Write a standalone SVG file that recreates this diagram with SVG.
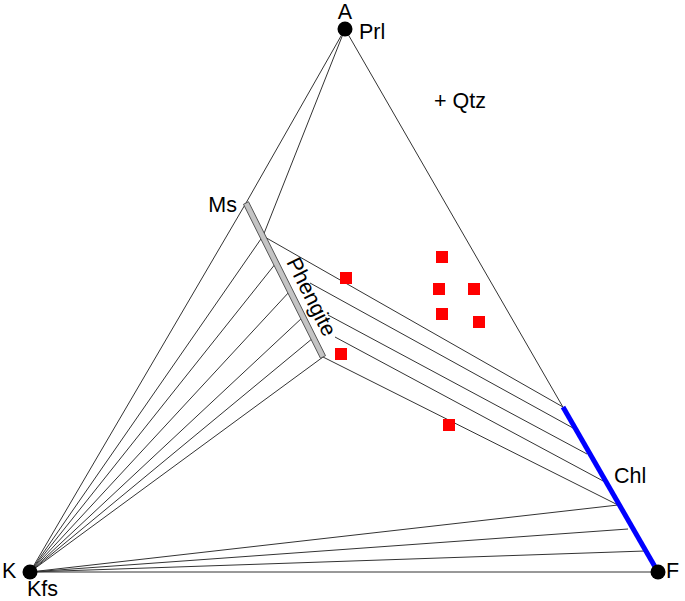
<svg xmlns="http://www.w3.org/2000/svg" width="685" height="601" viewBox="0 0 685 601">
<style>
.ln{stroke:#333;stroke-width:1;fill:none}
.lbl{font-family:"Liberation Sans",Arial,sans-serif;font-size:21.5px;fill:#000}
.dot{fill:#000}
.smp{fill:#ff0000}
</style>
<rect width="685" height="601" fill="#fff"/>
<g id="connectors">
<line class="ln" x1="345" y1="29" x2="658" y2="572"/>
<line class="ln" x1="30" y1="572" x2="658" y2="572"/>
<line class="ln" x1="30" y1="572" x2="246" y2="203"/>
<line class="ln" x1="345" y1="29" x2="246" y2="203"/>
<line class="ln" x1="345" y1="29" x2="263" y2="236"/>
<line class="ln" x1="30" y1="572" x2="263" y2="236"/>
<line class="ln" x1="30" y1="572" x2="276" y2="263"/>
<line class="ln" x1="30" y1="572" x2="290" y2="291"/>
<line class="ln" x1="30" y1="572" x2="303" y2="317"/>
<line class="ln" x1="30" y1="572" x2="313" y2="338"/>
<line class="ln" x1="30" y1="572" x2="323" y2="357"/>
<line class="ln" x1="263" y1="236" x2="563" y2="407"/>
<line class="ln" x1="310" y1="283" x2="573" y2="428"/>
<line class="ln" x1="328" y1="315" x2="587" y2="454"/>
<line class="ln" x1="335" y1="337" x2="605" y2="482"/>
<line class="ln" x1="323" y1="357" x2="618" y2="505"/>
<line class="ln" x1="30" y1="572" x2="618" y2="505"/>
<line class="ln" x1="30" y1="572" x2="628" y2="529"/>
<line class="ln" x1="30" y1="572" x2="645" y2="551"/>
</g>
<g id="phengite">
<polygon points="248.5,201.7 325.5,355.7 320.5,358.3 243.5,204.3" fill="#c4c4c4" stroke="#444" stroke-width="0.9"/>
<text class="lbl" font-size="24" text-anchor="middle" transform="translate(305,300) rotate(63.43)">Phengite</text>
<text class="lbl" x="237" y="212" text-anchor="end">Ms</text>
</g>
<g id="chl">
<line x1="563" y1="407" x2="658" y2="572" stroke="#0000ff" stroke-width="5"/>
<text class="lbl" x="614" y="483">Chl</text>
</g>
<g id="A">
<circle class="dot" cx="345" cy="29" r="7.5"/>
<text class="lbl" x="345" y="19" text-anchor="middle">A</text>
<text class="lbl" x="359" y="39">Prl</text>
</g>
<g id="K">
<circle class="dot" cx="30" cy="572" r="7.5"/>
<text class="lbl" x="2" y="578">K</text>
<text class="lbl" x="27" y="596">Kfs</text>
</g>
<g id="F">
<circle class="dot" cx="658" cy="572" r="7.5"/>
<text class="lbl" x="666" y="578">F</text>
</g>
<g id="qtz">
<text class="lbl" x="434" y="108">+ Qtz</text>
</g>
<g id="samples">
<rect class="smp" x="340" y="272" width="12" height="12"/>
<rect class="smp" x="436" y="251" width="12" height="12"/>
<rect class="smp" x="433" y="283" width="12" height="12"/>
<rect class="smp" x="468" y="283" width="12" height="12"/>
<rect class="smp" x="436" y="308" width="12" height="12"/>
<rect class="smp" x="473" y="316" width="12" height="12"/>
<rect class="smp" x="335" y="348" width="12" height="12"/>
<rect class="smp" x="443" y="419" width="12" height="12"/>
</g>
</svg>
